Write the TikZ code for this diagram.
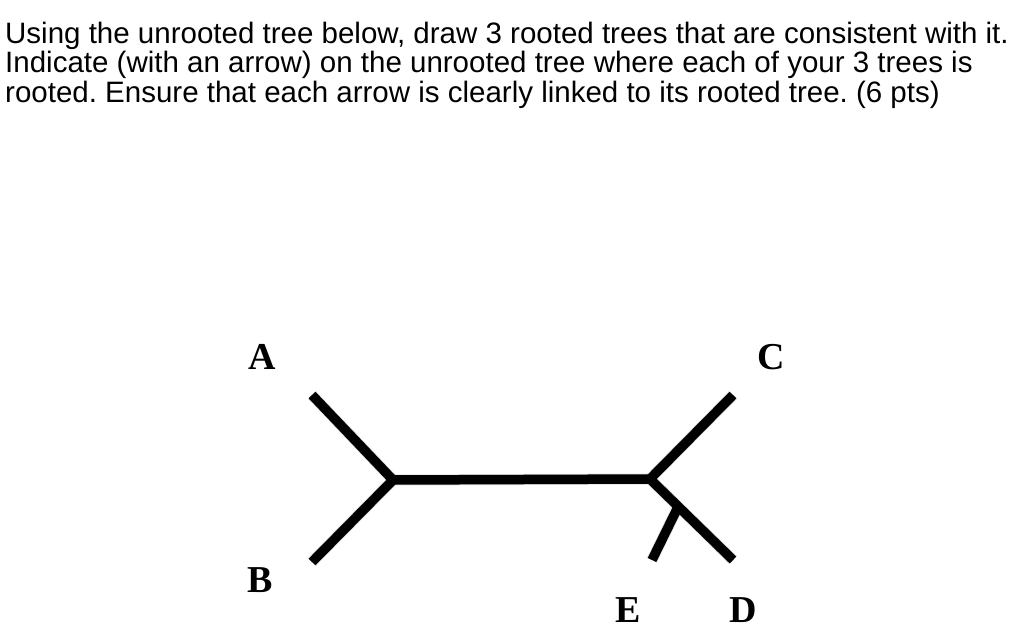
\documentclass[tikz,border=0pt]{standalone}
\usepackage{fontspec}
\setmainfont{Liberation Serif}
\setsansfont{Liberation Sans}
\usepackage{tikz}
\frenchspacing

\begin{document}
\begin{tikzpicture}[x=1pt, y=-1pt,
        branch/.style={line width=9.5pt, line join=miter, line cap=butt},
        shade/.style={line width=11pt, line join=miter, draw=black!25, opacity=0.5},
        leaf/.style={font=\fontsize{38}{40}\selectfont\bfseries, inner sep=0pt},
        task/.style={font=\sffamily\fontsize{29.5}{30}\selectfont, anchor=base west, inner sep=0pt}]
        \useasboundingbox (0, 0) rectangle (1024, 637);

        \node[task] (l1) at (5, 43) {Using the unrooted tree below, draw 3 rooted trees that are consistent with it.};
        \node[task] (l2) at (5, 72.5) {Indicate (with an arrow) on the unrooted tree where each of your 3 trees is};
        \node[task] (l3) at (5, 102) {rooted. Ensure that each arrow is clearly linked to its rooted tree. (6 pts)};

        \coordinate (a) at (312, 395);
        \coordinate (b) at (312, 562);
        \coordinate (c) at (733, 395);
        \coordinate (d) at (733, 560);
        \coordinate (e) at (652, 560);
        \coordinate (j1) at (393, 480);
        \coordinate (j2) at (650, 479);
        \coordinate (s) at (678, 507);

        % soft shadow
        \begin{scope}[shift={(3, 5)}]
            \draw[shade] (a) -- (j1) -- (b);
            \draw[shade] (j1) -- (j2);
            \draw[shade] (c) -- (j2) -- (d);
            \draw[shade] (e) -- (s);
        \end{scope}

        \draw[branch] (a) -- (j1) -- (b);
        \draw[branch] (j1) -- (j2);
        \draw[branch] (c) -- (j2) -- (d);
        \draw[branch] (e) -- (s);

        \node[leaf] (A) at (262, 357) {A};
        \node[leaf] (B) at (260, 580) {B};
        \node[leaf] (C) at (771, 357) {C};
        \node[leaf] (E) at (628, 610) {E};
        \node[leaf] (D) at (743, 610) {D};
    \end{tikzpicture}
\end{document}
